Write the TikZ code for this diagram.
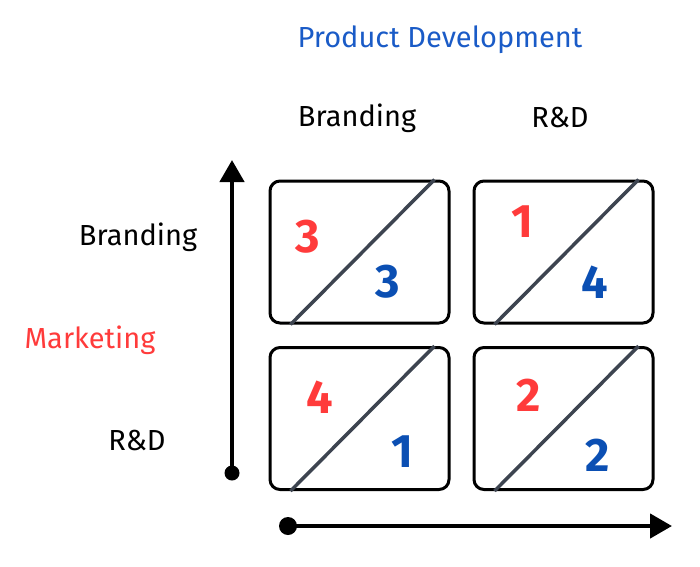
\documentclass[tikz,border=0pt]{standalone}
\usepackage{fontspec}
\setmainfont{Fira Sans}
\usetikzlibrary{calc,arrows.meta}

\definecolor{mred}{HTML}{FF3B3B}
\definecolor{pblue}{HTML}{0B4FB3}
\definecolor{tblue}{HTML}{1A5BC7}
\definecolor{slate}{HTML}{3D4450}

\tikzset{
  cell/.style={draw, line width=3pt, rounded corners=10pt, minimum width=179pt, minimum height=142pt, inner sep=0pt},
  lbl/.style={font=\fontsize{29}{34}\selectfont, inner sep=0pt},
  num/.style={font=\fontsize{47}{50}\selectfont\bfseries, inner sep=0pt},
  axis/.style={line width=4.5pt, -{Triangle[length=22pt,width=24pt]}},
}

\begin{document}
\begin{tikzpicture}[x=1pt, y=-1pt]
  \useasboundingbox (0,0) rectangle (700,566);

  % titles
  \node[lbl, text=tblue] (pd) at (440,40) {Product Development};
  \node[lbl, text=mred] (mk) at (90,340) {Marketing};
  \node[lbl] (cbr) at (357,118) {Branding};
  \node[lbl] (crd) at (560,118) {R\&D};
  \node[lbl] (rbr) at (138,237) {Branding};
  \node[lbl] (rrd) at (137,440) {R\&D};

  % axes
  \coordinate (vo) at (232,473);
  \coordinate (vt) at (232,160);
  \coordinate (ho) at (288,526);
  \coordinate (ht) at (672,526);
  \draw[axis] (vo) -- (vt);
  \draw[axis] (ho) -- (ht);
  \fill (vo) circle (7.5pt);
  \fill (ho) circle (9pt);

  % payoff cells
  \node[cell] (c11) at (359.5,252) {};
  \node[cell] (c12) at (563.5,252) {};
  \node[cell] (c21) at (359.5,418.5) {};
  \node[cell] (c22) at (563.5,418.5) {};
  \foreach \c in {c11,c12,c21,c22}
    \draw[slate, line width=3.5pt] ($(\c.south west)+(22,0)$) -- ($(\c.north east)+(-16,0)$);

  \node[num, text=mred] (a11) at (308,237) {3};
  \node[num, text=pblue] (b11) at (388,282) {3};
  \node[num, text=mred] (a12) at (522,222) {1};
  \node[num, text=pblue] (b12) at (595,282) {4};
  \node[num, text=mred] (a21) at (320,397) {4};
  \node[num, text=pblue] (b21) at (402,452) {1};
  \node[num, text=mred] (a22) at (529,395) {2};
  \node[num, text=pblue] (b22) at (598,455) {2};
\end{tikzpicture}
\end{document}
